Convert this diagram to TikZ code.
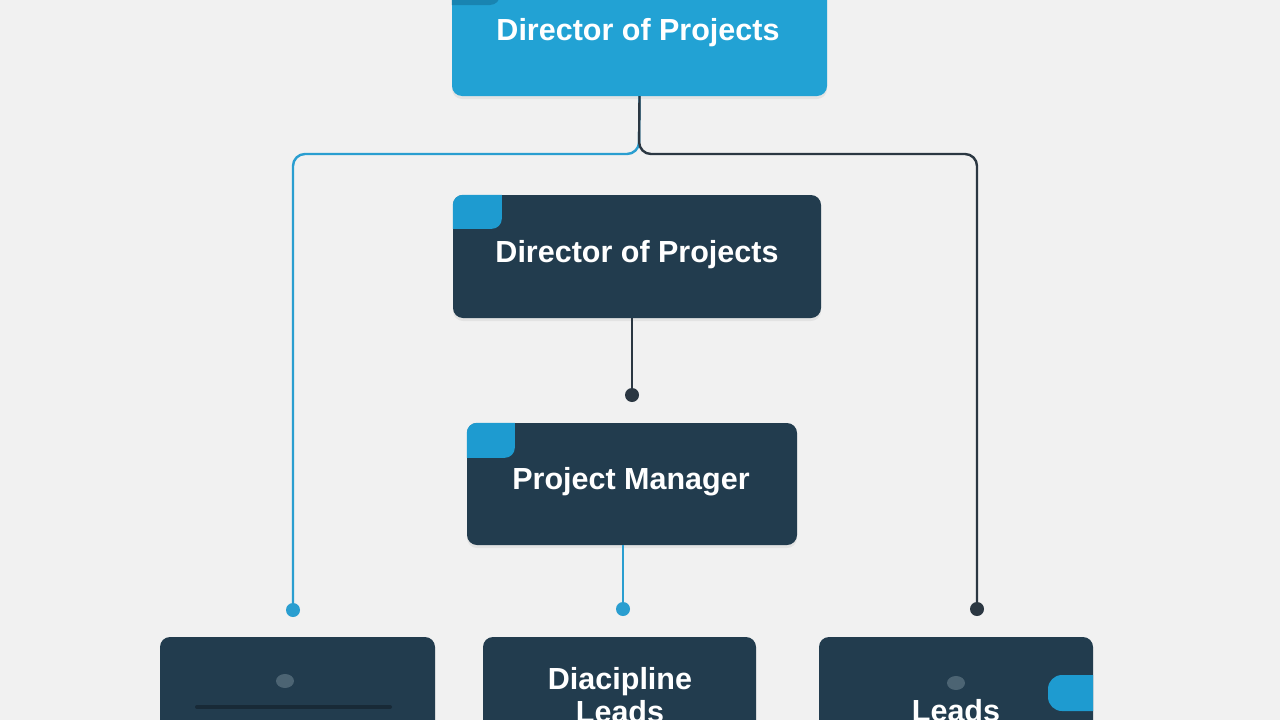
\documentclass[tikz,border=0pt]{standalone}
\usepackage{fontspec}
\setmainfont{Liberation Sans}
\usetikzlibrary{shadows,calc}
\definecolor{bg}{HTML}{F1F1F1}
\definecolor{topblue}{HTML}{22A2D4}
\definecolor{tabblue}{HTML}{1E9BD0}
\definecolor{darkbox}{HTML}{223C4E}
\definecolor{lineblue}{HTML}{2A9ED0}
\definecolor{linedark}{HTML}{2B3742}
\definecolor{blob}{HTML}{4C6473}
\tikzset{
  box/.style={draw=none, rounded corners=10pt, inner sep=0pt,
    drop shadow={opacity=0.12, shadow xshift=0pt, shadow yshift=-3pt}},
  darkfill/.style={box, fill=darkbox},
  lbl/.style={text=white, font=\bfseries\fontsize{30.5}{33}\selectfont, inner sep=0pt, align=center},
  conn/.style={line width=2.4pt, rounded corners=12pt},
  dotb/.style={circle, fill=lineblue, minimum size=14pt, inner sep=0pt},
  dotd/.style={circle, fill=linedark, minimum size=14pt, inner sep=0pt},
}
\begin{document}
\begin{tikzpicture}[x=1pt,y=-1pt]
\useasboundingbox (0,0) rectangle (1280,720);
\fill[bg] (0,0) rectangle (1280,720);
\begin{scope}
\clip (0,0) rectangle (1280,720);
% boxes
\node[box, fill=topblue, minimum width=375pt, minimum height=130pt] (top) at (639.5,31) {};
\node[darkfill, minimum width=368pt, minimum height=123pt] (dir) at (637,256.5) {};
\node[darkfill, minimum width=330pt, minimum height=122pt] (pm) at (632,484) {};
\node[darkfill, minimum width=275pt, minimum height=140pt] (bl) at (297.5,707) {};
\node[darkfill, minimum width=273pt, minimum height=140pt] (bm) at (619.5,707) {};
\node[darkfill, minimum width=274pt, minimum height=140pt] (br) at (956,707) {};
% tabs
\begin{scope}
\clip[rounded corners=10pt] (top.north west) rectangle (top.south east);
\fill[tabblue!85!black, rounded corners=10pt] ($(top.north west)+(-20,-20)$) rectangle (500,5);
\end{scope}
\begin{scope}
\clip[rounded corners=10pt] (dir.north west) rectangle (dir.south east);
\fill[tabblue, rounded corners=10pt] ($(dir.north west)+(-20,-20)$) rectangle ($(dir.north west)+(49,34)$);
\end{scope}
\begin{scope}
\clip[rounded corners=10pt] (pm.north west) rectangle (pm.south east);
\fill[tabblue, rounded corners=10pt] ($(pm.north west)+(-20,-20)$) rectangle ($(pm.north west)+(48,35)$);
\end{scope}
\begin{scope}
\clip[rounded corners=10pt] (br.north west) rectangle (br.south east);
\fill[tabblue, rounded corners=14pt] (1048,675) rectangle (1110,711);
\end{scope}
% decorations in bottom boxes
\fill[blob] (285,681) ellipse (9pt and 7pt);
\draw[line width=4pt, color=darkbox!70!black, line cap=round] (197,707) -- (390,707);
\fill[blob] (956,683) ellipse (9pt and 7pt);
% labels
\node[lbl] (tl) at (638,33) {Director of Projects};
\node[lbl] (dl) at (637,255) {Director of Projects};
\node[lbl] (pl) at (631,482) {Project Manager};
\node[lbl, anchor=north] (bml) at (620,667) {Diacipline\\Leads};
\node[lbl, anchor=north] (brl) at (956,699) {Leads};
% dots
\node[dotb] (d1) at (293,610) {};
\node[dotb] (d3) at (623,609) {};
\node[dotd] (d4) at (977,609) {};
\node[dotd] (d2) at (632,395) {};
% connectors
\draw[conn, lineblue] (top.south) -- (639,154) -| (d1.center);
\draw[conn, linedark] (top.south) -- (639,154) -| (d4.center);
\draw[conn, linedark, line width=2.6pt] (d2 |- dir.south) -- (d2.center);
\draw[conn, lineblue] (d3 |- pm.south) -- (d3.center);
\end{scope}
\end{tikzpicture}
\end{document}
